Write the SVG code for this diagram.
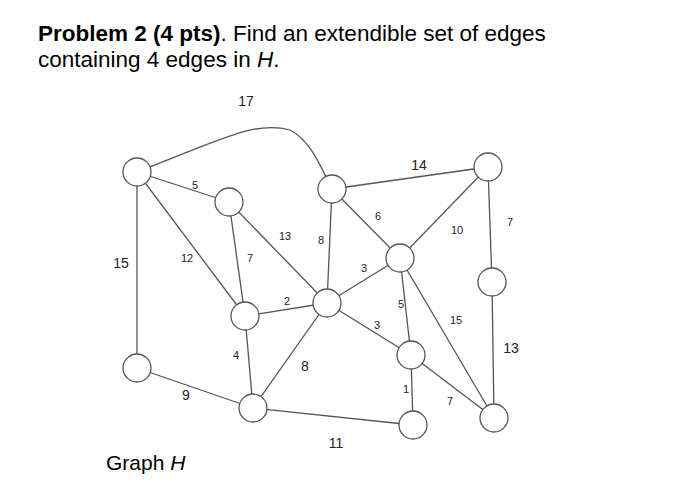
<svg xmlns="http://www.w3.org/2000/svg" width="673" height="502" viewBox="0 0 673 502">
<style>
text{font-family:"Liberation Sans",Arial,sans-serif;fill:#222}
.t{font-size:22.5px;fill:#000}
.l{font-size:11px}
.b{font-size:14px}
.n circle{fill:#fff;stroke:#555;stroke-width:1.3}
#edges line,#edges path{stroke:#555;stroke-width:1.3;fill:none}
</style>
<rect width="673" height="502" fill="#fff"/>
<text class="t" x="38" y="41"><tspan font-weight="bold">Problem 2 (4 pts)</tspan>. Find an extendible set of edges</text>
<text class="t" x="38" y="67">containing 4 edges in <tspan font-style="italic">H</tspan>.</text>
<g id="edges">
<path d="M137,172 C220,140 255,120 290,130 C310,140 320,165 332,189"/>
<line x1="137" y1="172" x2="229" y2="202"/>
<line x1="137" y1="172" x2="245" y2="316"/>
<line x1="137" y1="172" x2="137" y2="368"/>
<line x1="229" y1="202" x2="245" y2="316"/>
<line x1="229" y1="202" x2="327" y2="303"/>
<line x1="332" y1="189" x2="327" y2="303"/>
<line x1="332" y1="189" x2="400" y2="258"/>
<line x1="332" y1="189" x2="488" y2="167"/>
<line x1="400" y1="258" x2="488" y2="167"/>
<line x1="400" y1="258" x2="327" y2="303"/>
<line x1="400" y1="258" x2="411" y2="355"/>
<line x1="400" y1="258" x2="494" y2="418"/>
<line x1="327" y1="303" x2="245" y2="316"/>
<line x1="327" y1="303" x2="411" y2="355"/>
<line x1="327" y1="303" x2="253" y2="408"/>
<line x1="245" y1="316" x2="253" y2="408"/>
<line x1="137" y1="368" x2="253" y2="408"/>
<line x1="253" y1="408" x2="413" y2="425"/>
<line x1="411" y1="355" x2="413" y2="425"/>
<line x1="411" y1="355" x2="494" y2="418"/>
<line x1="488" y1="167" x2="492" y2="282"/>
<line x1="492" y1="282" x2="494" y2="418"/>
</g>
<g class="n">
<g id="nA"><circle cx="137" cy="172" r="14"/></g>
<g id="nB"><circle cx="229" cy="202" r="14"/></g>
<g id="nC"><circle cx="332" cy="189" r="14"/></g>
<g id="nD"><circle cx="400" cy="258" r="14"/></g>
<g id="nE"><circle cx="488" cy="167" r="14"/></g>
<g id="nF"><circle cx="245" cy="316" r="14"/></g>
<g id="nG"><circle cx="327" cy="303" r="14"/></g>
<g id="nH"><circle cx="137" cy="368" r="14"/></g>
<g id="nI"><circle cx="253" cy="408" r="14"/></g>
<g id="nJ"><circle cx="411" cy="355" r="14"/></g>
<g id="nK"><circle cx="492" cy="282" r="14"/></g>
<g id="nL"><circle cx="413" cy="425" r="14"/></g>
<g id="nM"><circle cx="494" cy="418" r="14"/></g>
</g>
<g text-anchor="middle">
<text class="b" x="246" y="106">17</text>
<text class="b" x="419" y="170">14</text>
<text class="l" x="195" y="189">5</text>
<text class="l" x="285" y="240">13</text>
<text class="l" x="321" y="244">8</text>
<text class="l" x="378" y="220">6</text>
<text class="l" x="457" y="234">10</text>
<text class="l" x="510" y="226">7</text>
<text class="b" x="121" y="268">15</text>
<text class="l" x="187" y="262">12</text>
<text class="l" x="250" y="262">7</text>
<text class="l" x="364" y="272">3</text>
<text class="l" x="287" y="305">2</text>
<text class="l" x="401" y="308">5</text>
<text class="l" x="377" y="329">3</text>
<text class="l" x="456" y="324">15</text>
<text class="b" x="511" y="353">13</text>
<text class="l" x="236" y="359">4</text>
<text class="b" x="305" y="371">8</text>
<text class="l" x="406" y="393">1</text>
<text class="l" x="450" y="405">7</text>
<text class="b" x="186" y="400">9</text>
<text class="b" x="336" y="448">11</text>
</g>
<text x="106" y="470" style="font-size:21px;fill:#000">Graph <tspan font-style="italic">H</tspan></text>
</svg>
